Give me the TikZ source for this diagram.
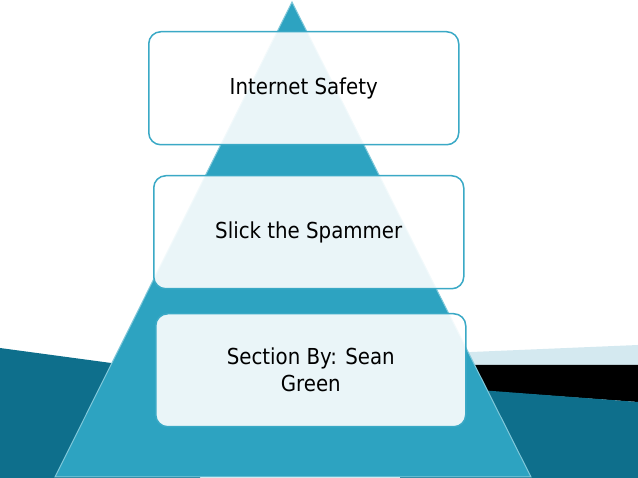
\documentclass[tikz,border=0pt]{standalone}
\usepackage{fontspec}
\setmainfont{DejaVu Sans Condensed}
\begin{document}
\begin{tikzpicture}[x=1pt,y=-1pt,
  lvl/.style={draw=boxedge,line width=1.5pt,fill=white,fill opacity=0.9,text opacity=1,rounded corners=12pt,minimum width=310pt,minimum height=113pt,inner sep=0pt,anchor=north west,align=center,font=\fontsize{22}{27}\selectfont}]
\definecolor{pyr}{HTML}{2DA3C1}
\definecolor{boxedge}{HTML}{3AA9C6}
\definecolor{darkteal}{HTML}{0E6F8C}
\definecolor{lightband}{HTML}{D4E9F0}
\useasboundingbox (0,0) rectangle (638,478);
\fill[white] (0,0) rectangle (638,478);
% background shapes
\fill[darkteal] (0,348) -- (200,375) -- (200,478) -- (0,478) -- cycle;
\fill[lightband] (400,355) -- (638,345) -- (638,366) -- (400,366) -- cycle;
\fill[black] (400,365) -- (638,365) -- (638,402) -- (400,385) -- cycle;
\fill[darkteal] (400,384) -- (638,402) -- (638,478) -- (400,478) -- cycle;
% pyramid
\draw[pyr!60!white,fill=pyr,line width=1pt] (292,2) -- (531,477) -- (55,477) -- cycle;
\node[lvl] (a) at (148,31) {Internet Safety};
\node[lvl] (b) at (153,175) {Slick the Spammer};
\node[lvl] (c) at (155,313) {Section By: Sean\\Green};
\end{tikzpicture}
\end{document}
